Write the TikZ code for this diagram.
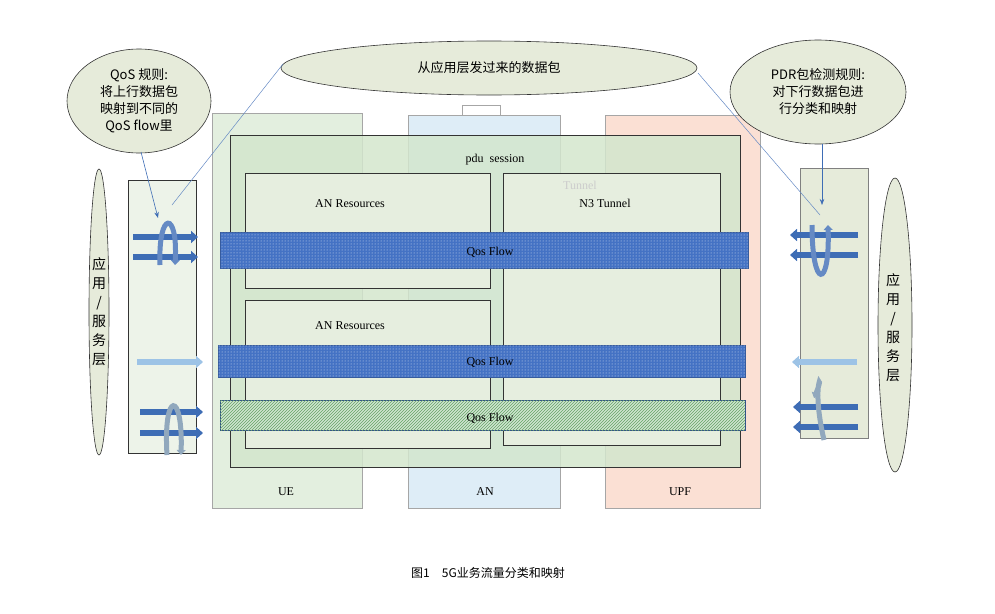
\documentclass[tikz,border=0pt]{standalone}
\usepackage{fontspec}
\setmainfont{Liberation Serif}
\newfontfamily\cjk{Noto Sans CJK SC}
\usetikzlibrary{patterns,arrows.meta}
\definecolor{bluebar}{HTML}{4472C4}
\definecolor{arr}{HTML}{3E6DB5}
\definecolor{lightarr}{HTML}{9DC3E6}
\definecolor{ue}{HTML}{E3EFDF}
\definecolor{anc}{HTML}{DEEDF7}
\definecolor{upf}{HTML}{FBE0D4}
\definecolor{pdu}{HTML}{D3E6CD}
\definecolor{inner}{HTML}{E6EEDF}
\definecolor{call}{HTML}{E6EBDA}
\definecolor{hatchg}{HTML}{CFE5D0}
\tikzset{
 col/.style={draw=gray!70,line width=0.6pt},
 box/.style={draw=black!80,line width=0.6pt},
 lbl/.style={font=\fontsize{12}{14}\selectfont},
 cl/.style={draw=black!80,fill=call,line width=0.6pt},
 barA/.style={fill=bluebar,draw=bluebar!80!black,postaction={pattern=dots,pattern color=white!80!bluebar}},
 barB/.style={fill=hatchg,draw=bluebar!70!black,postaction={pattern=north east lines,pattern color=green!40!black!60}},
 blk/.style={line width=6pt,draw=arr,-{Triangle[width=12pt,length=7pt]}},
 blkl/.style={line width=6pt,draw=lightarr,-{Triangle[width=12pt,length=7pt]}},
 loopA/.style={line width=5pt,draw=arr!80,-{Triangle[width=9pt,length=5pt]}},
 loopB/.style={line width=5pt,draw=gray!40!lightarr,-{Triangle[width=9pt,length=5pt]}},
 ptr/.style={draw=arr,line width=0.6pt,-{Stealth[length=6pt]}},
 thin/.style={draw=arr!80,line width=0.5pt}
}
\begin{document}
\begin{tikzpicture}[x=1pt,y=-1pt]
\useasboundingbox (0,0) rectangle (995,613);
% columns
\fill[ue,col] (212,113) rectangle (362,508);
\fill[anc,col] (408,115) rectangle (560,508);
\fill[upf,col] (605,115) rectangle (760,508);
\draw[col,fill=white] (462,105) rectangle (500,115);
\node[lbl] (ue) at (286,492) {UE};
\node[lbl] (an) at (485,492) {AN};
\node[lbl] (upfl) at (680,492) {UPF};
% pdu
\fill[pdu,fill opacity=0.85,box] (230,135) rectangle (740,467);
\node[lbl] (pdu) at (495,160) {pdu\ \ session};
\fill[inner,box] (245,173) rectangle (490,288);
\fill[inner,box] (503,173) rectangle (720,445);
\fill[inner,box] (245,300) rectangle (490,448);
\node[lbl] (r1) at (350,204) {AN Resources};
\node[lbl] (r2) at (350,326) {AN Resources};
\node[lbl] (n3) at (605,203) {N3 Tunnel};
\node[lbl,text=gray!40] (tun) at (580,185) {Tunnel};
% bars
\path[barA] (220,232) rectangle (748,268);
\path[barA] (218,345) rectangle (745,377);
\path[barB] (220,400) rectangle (745,430);
\node[lbl] (q1) at (490,252) {Qos Flow};
\node[lbl] (q2) at (490,362) {Qos Flow};
\node[lbl] (q3) at (490,418) {Qos Flow};
% app boxes
\fill[fill=inner!70!white,box] (128,180) rectangle (196,453);
\fill[fill=call,draw=gray] (800,168) rectangle (868,438);
\draw[box,fill=call] (99,312) ellipse (10 and 143);
\draw[box,fill=call] (895,325) ellipse (17 and 147);
\node[lbl,align=center,font=\cjk\fontsize{14}{19}\selectfont] (appl) at (99,312) {应\\用\\/\\服\\务\\层};
\node[lbl,align=center,font=\cjk\fontsize{14}{19}\selectfont] (appr) at (893,328) {应\\用\\/\\服\\务\\层};
% left arrows
\draw[blk] (133,237) -- (198,237);
\draw[blk] (133,257) -- (198,257);
\draw[loopA] (160,265) .. controls (158,210) and (178,210) .. (175,265);
\draw[blkl] (137,362) -- (203,362);
\draw[blk] (140,412) -- (203,412);
\draw[blk] (140,433) -- (203,433);
\draw[loopB] (167,455) .. controls (163,390) and (183,390) .. (181,455);
% right arrows
\draw[blk] (858,235) -- (790,235);
\draw[blk] (858,255) -- (790,255);
\draw[loopA] (812,225) .. controls (812,290) and (830,290) .. (828,225);
\draw[blkl] (857,362) -- (792,362);
\draw[blk] (858,407) -- (793,407);
\draw[blk] (858,427) -- (793,427);
\draw[loopB] (824,440) .. controls (810,380) and (826,370) .. (814,398);
% callouts
\draw[cl] (139,101) ellipse (72 and 52);
\node[align=center,font=\cjk\fontsize{13}{17}\selectfont] (cL) at (139,101) {QoS 规则:\\将上行数据包\\映射到不同的\\QoS flow里};
\draw[cl] (489,68) ellipse (208 and 27);
\node[font=\cjk\fontsize{13}{16}\selectfont] (cT) at (489,68) {从应用层发过来的数据包};
\draw[cl] (818,92) ellipse (88 and 52);
\node[align=center,font=\cjk\fontsize{13}{17}\selectfont] (cR) at (818,92) {PDR包检测规则:\\对下行数据包进\\行分类和映射};
\coordinate (tl) at (283,64);
\coordinate (tr) at (698,73);
\coordinate (pl) at (172,205);
\coordinate (pr) at (820,215);
\coordinate (al) at (141,152);
\coordinate (ar) at (822,144);
\draw[thin] (tl) -- (pl);
\draw[thin] (tr) -- (pr);
\draw[ptr] (al) -- (158,218);
\draw[ptr] (ar) -- (822,205);
% caption
\node[font=\cjk\fontsize{12}{14}\selectfont] (cap) at (488,573) {图1\quad 5G业务流量分类和映射};
\end{tikzpicture}
\end{document}
